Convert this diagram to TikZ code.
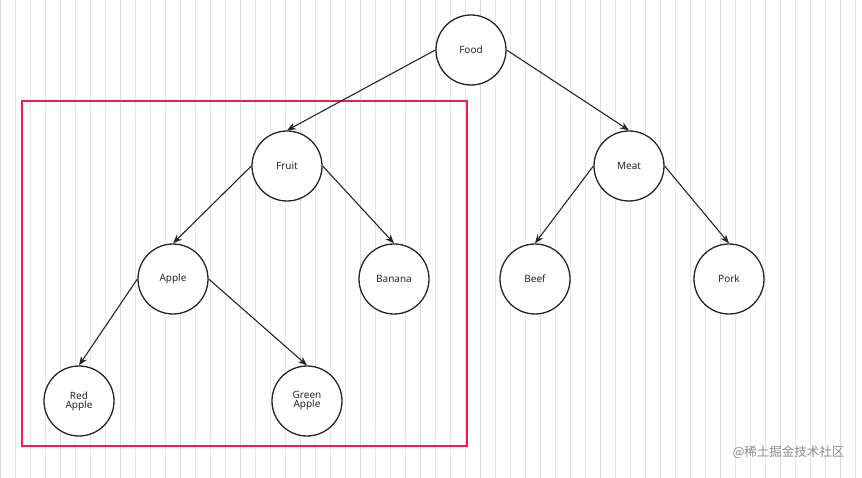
\documentclass[tikz,border=0pt]{standalone}
\usepackage{fontspec}
\setmainfont{Noto Sans}
\newfontfamily\cjk{Noto Sans CJK SC}
\usetikzlibrary{arrows.meta}
\begin{document}
\begin{tikzpicture}[x=1pt,y=-1pt,
  nd/.style={circle,draw=black!85,line width=1.3pt,minimum size=70pt,inner sep=0pt,font=\fontsize{10}{12}\selectfont,text=black!85,align=center,fill=white},
  ed/.style={draw=black!85,line width=1.1pt,-{Stealth[length=9pt,width=7pt]}}]
\useasboundingbox (0,0) rectangle (862,478);
\fill[white] (0,0) rectangle (862,478);
\draw[black!9,line width=0.5pt] (0,0) grid[step=15] (862,478);
\draw[black!14,line width=0.6pt] (0,0) grid[step=60] (862,478);
\draw[draw={rgb,255:red,240;green,30;blue,70},line width=1.6pt] (22,101) rectangle (467,446);
\node[nd] (food) at (471,50) {Food};
\node[nd] (fruit) at (287,166) {Fruit};
\node[nd] (meat) at (629,166) {Meat};
\node[nd] (apple) at (173,279) {Apple};
\node[nd] (banana) at (394,279) {Banana};
\node[nd] (beef) at (535,279) {Beef};
\node[nd] (pork) at (729,279) {Pork};
\node[nd] (red) at (79,401) {Red\\[-3pt]Apple};
\node[nd] (green) at (307,401) {Green\\[-3pt]Apple};
\draw[ed] (food.west) -- (fruit.north);
\draw[ed] (food.east) -- (meat.north);
\draw[ed] (fruit.west) -- (apple.north);
\draw[ed] (fruit.east) -- (banana.north);
\draw[ed] (meat.west) -- (beef.north);
\draw[ed] (meat.east) -- (pork.north);
\draw[ed] (apple.west) -- (red.north);
\draw[ed] (apple.east) -- (green.north);
\node[font=\cjk\fontsize{12.5}{14}\selectfont,text=black!45,anchor=east] (wm) at (848,452) {@稀土掘金技术社区};
\end{tikzpicture}
\end{document}
